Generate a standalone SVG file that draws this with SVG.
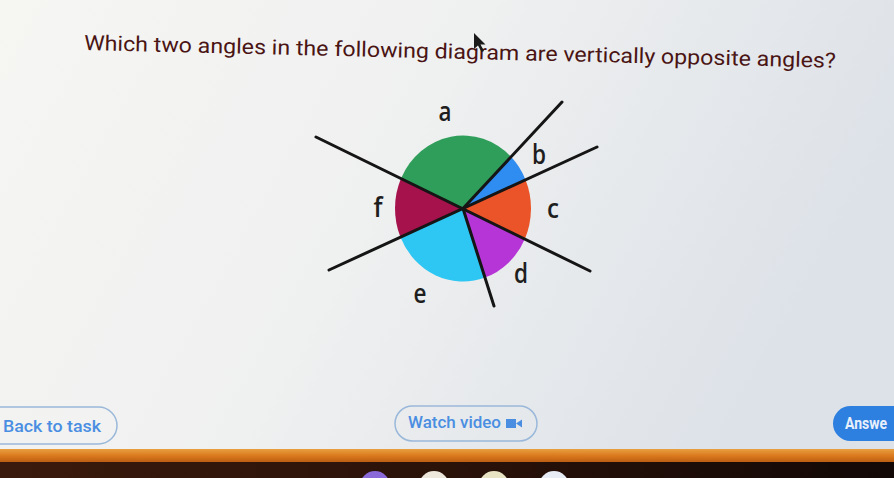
<svg xmlns="http://www.w3.org/2000/svg" width="894" height="478" viewBox="0 0 894 478">
  <defs>
    <linearGradient id="bg" x1="0" y1="0" x2="1" y2="0.3">
      <stop offset="0" stop-color="#f6f6f3"/>
      <stop offset="0.5" stop-color="#eff0f0"/>
      <stop offset="1" stop-color="#dde2e8"/>
    </linearGradient>
    <linearGradient id="orange" x1="0" y1="0" x2="0" y2="1">
      <stop offset="0" stop-color="#e9a040"/>
      <stop offset="0.5" stop-color="#d9781c"/>
      <stop offset="1" stop-color="#b85a12"/>
    </linearGradient>
    <linearGradient id="dark" x1="0" y1="0" x2="1" y2="0">
      <stop offset="0" stop-color="#3a1a0c"/>
      <stop offset="0.5" stop-color="#2a1209"/>
      <stop offset="1" stop-color="#120806"/>
    </linearGradient>
    <style>
      .lbl { font-family: "Open Sans", "Liberation Sans", sans-serif; font-size: 27px; font-weight: 600; fill: #1e1e1e; text-anchor: middle; }
      .ln { stroke: #151515; stroke-width: 3; stroke-linecap: round; fill: none; }
      .btn { font-family: "Roboto", "Liberation Sans", sans-serif; font-size: 17px; font-weight: 500; fill: #4a8ee2; }
      .pill { fill: none; stroke: #9ab8da; stroke-width: 1.5; }
    </style>
  </defs>

  <rect x="0" y="0" width="894" height="478" fill="url(#bg)"/>

  <g id="title">
    <text x="84" y="50" transform="rotate(1.35 84 50)" font-family="Roboto, 'Liberation Sans', sans-serif" font-size="21" fill="#4a1414" textLength="752" lengthAdjust="spacingAndGlyphs">Which two angles in the following diagram are vertically opposite angles?</text>
  </g>

  <g id="cursor">
    <polygon points="474,33 474,49 478,45.5 481.5,52 484,51 480.5,44.5 485.5,44.5" fill="#1a1a1a"/>
  </g>

  <g id="angle-a">
    <path d="M463,208.5 L401.1,178.3 A68,73 0 0 1 511.05,156.85 Z" fill="#2e9e5a"/>
    <text class="lbl" x="445" y="121" textLength="13" lengthAdjust="spacingAndGlyphs">a</text>
  </g>
  <g id="angle-b">
    <path d="M463,208.5 L511.05,156.85 A68,73 0 0 1 525.5,179.75 Z" fill="#2f8cf0"/>
    <text class="lbl" x="539" y="164" textLength="14" lengthAdjust="spacingAndGlyphs">b</text>
  </g>
  <g id="angle-c">
    <path d="M463,208.5 L525.5,179.75 A68,73 0 0 1 524.8,238.9 Z" fill="#ea5428"/>
    <text class="lbl" x="553" y="218" textLength="12" lengthAdjust="spacingAndGlyphs">c</text>
  </g>
  <g id="angle-d">
    <path d="M463,208.5 L524.8,238.9 A68,73 0 0 1 484.9,277.6 Z" fill="#b535d6"/>
    <text class="lbl" x="521" y="283" textLength="14" lengthAdjust="spacingAndGlyphs">d</text>
  </g>
  <g id="angle-e">
    <path d="M463,208.5 L484.9,277.6 A68,73 0 0 1 400.5,237.25 Z" fill="#2ec6f2"/>
    <text class="lbl" x="420" y="303" textLength="13" lengthAdjust="spacingAndGlyphs">e</text>
  </g>
  <g id="angle-f">
    <path d="M463,208.5 L400.5,237.25 A68,73 0 0 1 401.1,178.3 Z" fill="#a5124c"/>
    <text class="lbl" x="378" y="217" textLength="9" lengthAdjust="spacingAndGlyphs">f</text>
  </g>

  <g id="lines">
    <line class="ln" x1="316" y1="137" x2="590" y2="271"/>
    <line class="ln" x1="329" y1="270" x2="597" y2="147"/>
    <line class="ln" x1="463" y1="208.5" x2="562" y2="102"/>
    <line class="ln" x1="463" y1="208.5" x2="494" y2="306"/>
  </g>

  <g id="back-to-task">
    <rect class="pill" x="-40" y="407" width="157" height="37" rx="18.5"/>
    <text class="btn" x="3" y="432" textLength="98" lengthAdjust="spacingAndGlyphs">Back to task</text>
  </g>

  <g id="watch-video">
    <rect class="pill" x="395" y="406" width="142" height="35" rx="17.5"/>
    <text class="btn" x="408" y="428" textLength="93" lengthAdjust="spacingAndGlyphs">Watch video</text>
    <rect x="506" y="419" width="10" height="9" fill="#4a8ee2"/>
    <polygon points="516,423.5 522,419.5 522,427.5" fill="#4a8ee2"/>
  </g>

  <g id="answer">
    <rect x="833" y="406" width="100" height="35" rx="17.5" fill="#2d7fe0"/>
    <text x="845" y="429" font-family="Roboto, 'Liberation Sans', sans-serif" font-size="16" font-weight="700" fill="#e8f0fb" textLength="42" lengthAdjust="spacingAndGlyphs">Answe</text>
  </g>

  <g id="bottom-bar">
    <rect x="0" y="449" width="894" height="14" fill="url(#orange)"/>
    <rect x="0" y="462" width="894" height="16" fill="url(#dark)"/>
    <circle cx="375" cy="486" r="15" fill="#8a6ad8"/>
    <circle cx="434" cy="486" r="15" fill="#eee8dc"/>
    <circle cx="494" cy="486" r="15" fill="#e9e4c4"/>
    <circle cx="554" cy="486" r="15" fill="#e8ecf4"/>
  </g>
</svg>
